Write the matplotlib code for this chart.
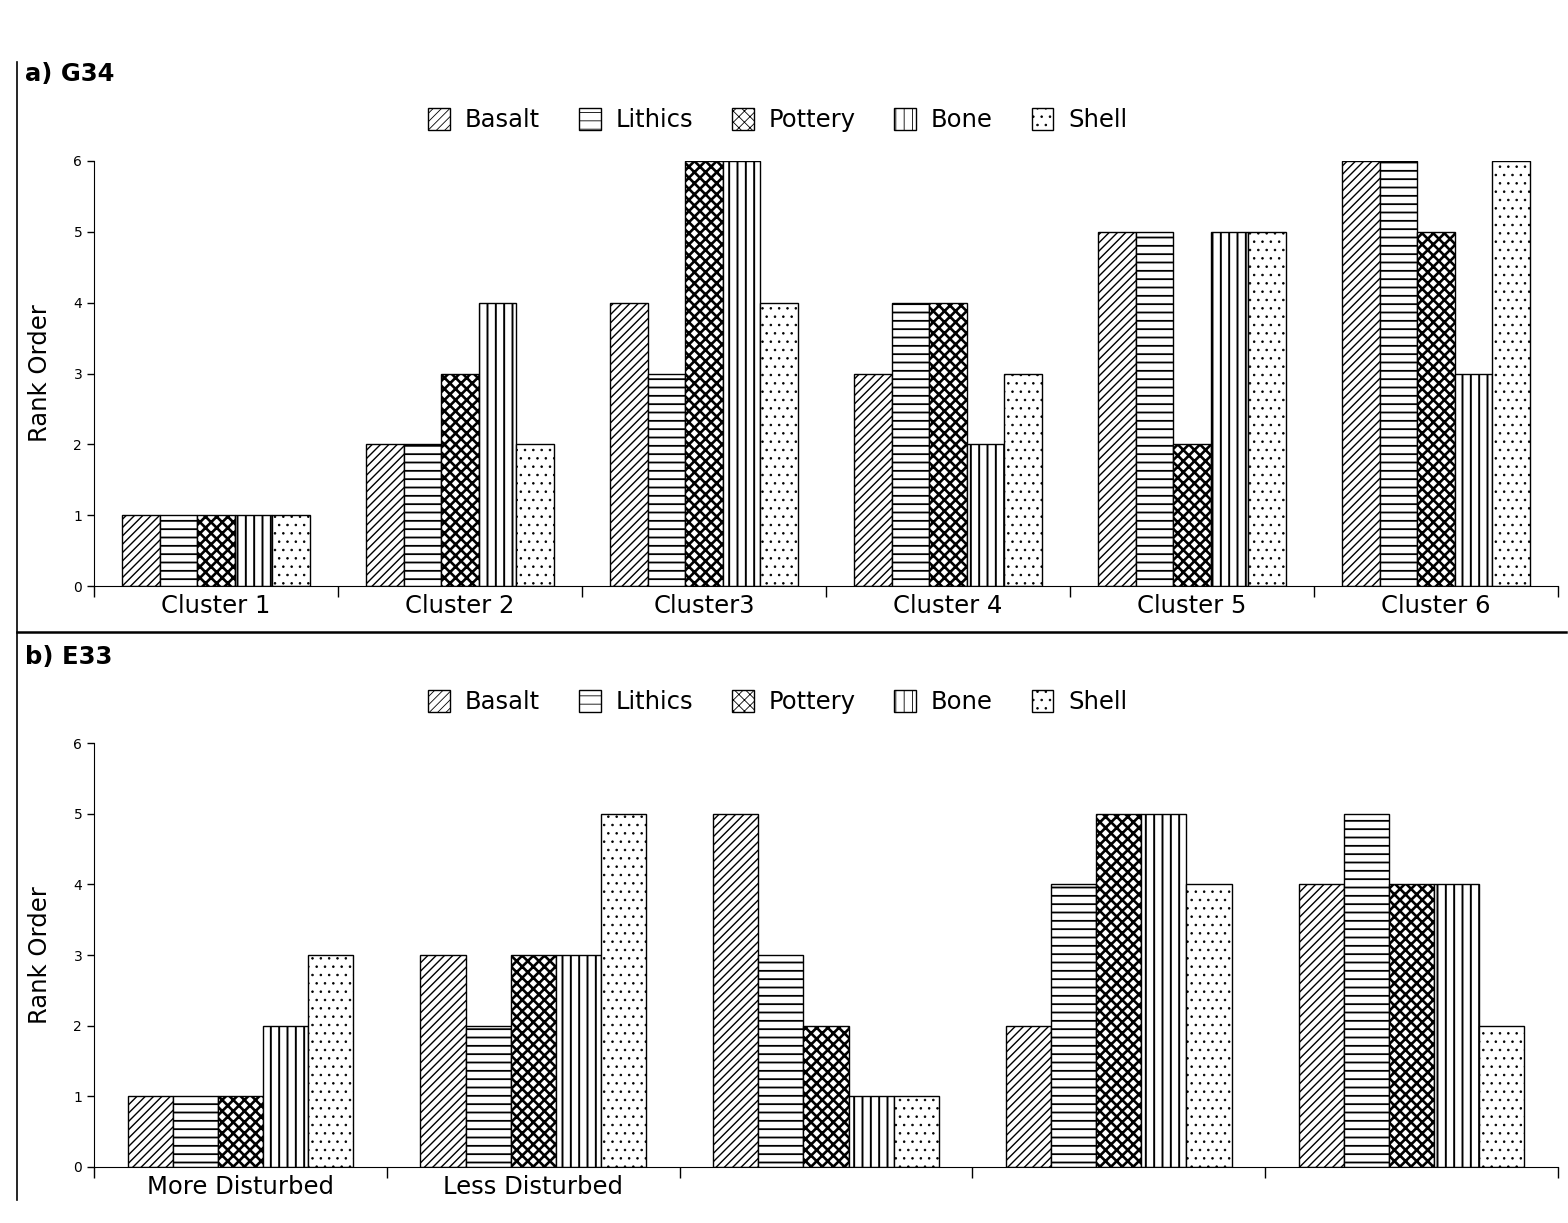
import numpy as np
import matplotlib
matplotlib.use("Agg")
import matplotlib.pyplot as plt
from matplotlib.lines import Line2D

plt.rcParams['font.family'] = ['DejaVu Sans']

# 材料类别
materials = ["Basalt", "Lithics", "Pottery", "Bone", "Shell"]
hatches = ["////", "--", "xxx", "||", ".."]
hatch_lw = [1.0, 1.3, 1.9, 1.4, 0.6]

# a) G34
g34_groups = ["Cluster 1", "Cluster 2", "Cluster3", "Cluster 4", "Cluster 5", "Cluster 6"]
g34_basalt = [1, 2, 4, 3, 5, 6]
g34_lithics = [1, 2, 3, 4, 5, 6]
g34_pottery = [1, 3, 6, 4, 2, 5]
g34_bone = [1, 4, 6, 2, 5, 3]
g34_shell = [1, 2, 4, 3, 5, 6]

# b) E33
e33_groups = ["More Disturbed", "Less Disturbed", "", "", ""]
e33_basalt = [1, 3, 5, 2, 4]
e33_lithics = [1, 2, 3, 4, 5]
e33_pottery = [1, 3, 2, 5, 4]
e33_bone = [2, 3, 1, 5, 4]
e33_shell = [3, 5, 1, 4, 2]

W, H = 1568, 1223
fig = plt.figure(figsize=(W / 100, H / 100), dpi=100)

FS = 17.5


def draw_panel(ax, groups, series):
    n = len(groups)
    x = np.arange(n)
    bw = 0.77 / 5
    bars = []
    for k, vals in enumerate(series):
        plt.rcParams['hatch.linewidth'] = hatch_lw[k]
        b = ax.bar(x + (k - 2) * bw, vals, width=bw, color="white",
                   edgecolor="black", linewidth=1.0, hatch=hatches[k],
                   label=materials[k])
        bars.append(b)
    ax.set_xlim(-0.5, n - 0.5)
    ax.set_ylim(0, 6)
    ax.set_yticks(np.arange(0, 7, 1))
    ax.set_xticks(np.arange(n + 1) - 0.5)
    ax.set_xticklabels([])
    ax.set_xticks(x, minor=True)
    ax.set_xticklabels(groups, minor=True, fontsize=FS)
    ax.tick_params(axis="x", which="minor", length=0, pad=6)
    ax.tick_params(axis="x", which="major", length=8, width=1, direction="out")
    ax.tick_params(axis="y", length=5, width=1, labelsize=10, direction="out")
    ax.spines["top"].set_visible(False)
    ax.spines["right"].set_visible(False)
    ax.set_ylabel("Rank Order", fontsize=FS, labelpad=15)
    return bars


ax1 = fig.add_axes([94 / W, 1 - 586 / H, 1464 / W, 425 / H])
bars1 = draw_panel(ax1, g34_groups,
                   [g34_basalt, g34_lithics, g34_pottery, g34_bone, g34_shell])

ax2 = fig.add_axes([94 / W, 1 - 1167 / H, 1464 / W, 424 / H])
bars2 = draw_panel(ax2, e33_groups,
                   [e33_basalt, e33_lithics, e33_pottery, e33_bone, e33_shell])

# 图例
for yy in (120, 702):
    fig.legend(handles=bars1, labels=materials, loc="center",
               bbox_to_anchor=(0.496, 1 - yy / H), ncol=5, frameon=False,
               fontsize=FS, handlelength=0.9, handleheight=1.0,
               handletextpad=0.6, columnspacing=1.6)

# 面板标题
fig.text(25 / W, 1 - 74 / H, "a) G34", fontsize=FS, fontweight="bold", va="center")
fig.text(25 / W, 1 - 657 / H, "b) E33", fontsize=FS, fontweight="bold", va="center")

# 边框线
fig.add_artist(Line2D([17 / W, 17 / W], [1 - 62 / H, 1 - 1200 / H], color="black", linewidth=1.2))
fig.add_artist(Line2D([17 / W, 1566 / W], [1 - 632 / H, 1 - 632 / H], color="black", linewidth=1.8))

fig.savefig("out.png", dpi=100)
